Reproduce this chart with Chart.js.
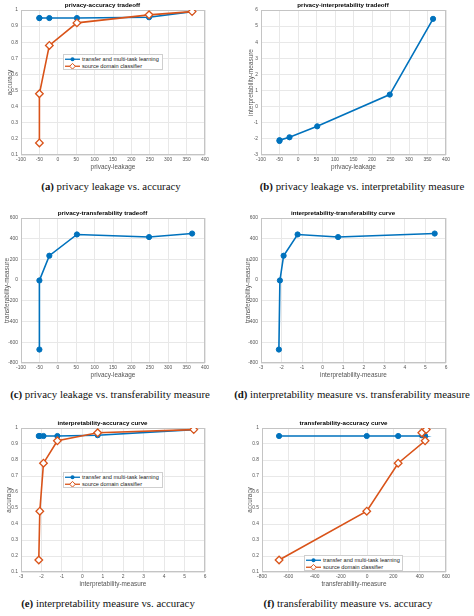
<!DOCTYPE html>
<html>
<head>
<meta charset="utf-8">
<script src="https://cdn.jsdelivr.net/npm/chart.js@4/dist/chart.umd.min.js"></script>
<style>
  html, body { margin: 0; padding: 0; background: #fff; }
  body { width: 474px; height: 616px; position: relative; overflow: hidden; }
  canvas { position: absolute; }
  .cap { position: absolute; transform: translate(-50%, -50%); white-space: nowrap;
         font-family: "Liberation Serif", "DejaVu Serif", serif; font-size: 10.8px; color: #111; }
  .cap b { font-weight: bold; }
  .leg { position: absolute; background: #fff; border: 1px solid #cfcfcf; box-sizing: border-box;
         font-family: "Liberation Sans", Arial, sans-serif; font-size: 5.6px; color: #222; padding-top: 1px; }
  .leg .row { display: flex; align-items: center; height: 6.5px; }
  .leg svg { width: 15px; height: 6.5px; margin: 0 2px 0 1px; flex: none; }
</style>
</head>
<body>
<canvas id="cA" width="213" height="171" style="left:0px;top:0px"></canvas>
<canvas id="cB" width="214" height="171" style="left:240px;top:0px"></canvas>
<canvas id="cC" width="213" height="171" style="left:0px;top:208px"></canvas>
<canvas id="cD" width="214" height="171" style="left:240px;top:208px"></canvas>
<canvas id="cE" width="213" height="170" style="left:0px;top:418px"></canvas>
<canvas id="cF" width="213" height="170" style="left:241px;top:418px"></canvas>

<div class="cap" style="left:111px;top:186px"><b>(a)</b> privacy leakage vs. accuracy</div>
<div class="cap" style="left:362px;top:186px"><b>(b)</b> privacy leakage vs. interpretability measure</div>
<div class="cap" style="left:110px;top:394px"><b>(c)</b> privacy leakage vs. transferability measure</div>
<div class="cap" style="left:352px;top:394px"><b>(d)</b> interpretability measure vs. transferability measure</div>
<div class="cap" style="left:108px;top:603px"><b>(e)</b> interpretability measure vs. accuracy</div>
<div class="cap" style="left:348px;top:603px"><b>(f)</b> transferability measure vs. accuracy</div>

<script>
// ---- data (one entry per model configuration) ----
const privacyLeakage   = [-50, -50, -23, 52, 248, 365];
const interpretability = [-2.13, -2.08, -1.9, -1.22, 0.75, 5.45];
const transferability  = [-670, -3, 236, 441, 416, 450];
const accTransfer      = [0.95, 0.95, 0.95, 0.95, 0.955, 0.99];
const accSource        = [0.175, 0.48, 0.78, 0.92, 0.97, 0.99];

const seriesNames = ["transfer and multi-task learning", "source domain classifier"];
const panelTitles = ["privacy-accuracy tradeoff", "privacy-interpretability tradeoff",
  "privacy-transferability tradeoff", "interpretability-transferability curve",
  "interpretability-accuracy curve", "transferability-accuracy curve"];
const axisNames = { privacy: "privacy-leakage", interp: "interpretability-measure",
  transfer: "transferability-measure", acc: "accuracy" };
// tick ranges [min, max, step]
const privacyTicks  = [-100, 400, 50];
const interpTicks   = [-3, 6, 1];
const transferTicks = [-800, 600, 200];
const accTicks      = [0.1, 1, 0.1];

const BLUE = "#0072BD", ORANGE = "#D95319";
const SANS = '"Liberation Sans", Arial, sans-serif';

function pts(xs, ys) { return xs.map((x, i) => ({ x: x, y: ys[i] })); }

function blueSet(xs, ys) {
  return { label: seriesNames[0], data: pts(xs, ys), borderColor: BLUE, backgroundColor: BLUE,
    borderWidth: 1.6, pointRadius: 2.6, pointStyle: "circle", pointBorderWidth: 1,
    showLine: true, tension: 0, order: 2 };
}
function orangeSet(xs, ys) {
  return { label: seriesNames[1], data: pts(xs, ys), borderColor: ORANGE, backgroundColor: "#fff",
    borderWidth: 1.6, pointRadius: 3.8, pointStyle: "rectRot", pointBorderWidth: 1.3,
    showLine: true, tension: 0, order: 1 };
}

const framePlugin = {
  id: "frame",
  beforeDatasetsDraw(chart) {
    const a = chart.chartArea, ctx = chart.ctx;
    ctx.save();
    ctx.strokeStyle = "#c4c4c4";
    ctx.lineWidth = 1;
    ctx.strokeRect(Math.round(a.left) + 0.5, Math.round(a.top) + 0.5,
      Math.round(a.right - a.left) - 1, Math.round(a.bottom - a.top) - 1);
    ctx.restore();
  }
};

function fmt(v) { return String(+Number(v).toFixed(3)); }

function axis(range, titleText, isY, titlePad) {
  const o = {
    type: "linear", min: range[0], max: range[1],
    grid: { color: "#e8e8e8", lineWidth: 1, drawTicks: false },
    border: { display: false },
    ticks: { stepSize: range[2], autoSkip: false, maxRotation: 0, color: "#555",
      font: { family: SANS, size: 4.9 }, padding: isY ? 3 : 1.5, callback: fmt },
    title: { display: true, text: titleText, color: "#555",
      font: { family: SANS, size: 6.4, lineHeight: "8px" },
      padding: isY ? { top: titlePad, bottom: 0 } : { top: 0, bottom: 0 } },
  };
  if (isY) o.afterFit = s => { s.width = 21; };
  else o.afterFit = s => { s.height = 16; };
  return o;
}

function makeChart(id, title, datasets, xr, xName, yr, yName, yTitlePad) {
  new Chart(document.getElementById(id), {
    type: "scatter",
    data: { datasets: datasets },
    options: {
      responsive: false, animation: false, devicePixelRatio: 1,
      layout: { padding: { left: 0, right: 8, top: 0, bottom: 0 } },
      plugins: {
        legend: { display: false }, tooltip: { enabled: false },
        title: { display: true, text: title, color: "#000",
          font: { family: SANS, size: 6.2, weight: "bold", lineHeight: "10px" },
          padding: { top: 0, bottom: 0 } }
      },
      scales: { x: axis(xr, xName, false, 0), y: axis(yr, yName, true, yTitlePad) }
    },
    plugins: [framePlugin]
  });
}

makeChart("cA", panelTitles[0],
  [blueSet(privacyLeakage, accTransfer), orangeSet(privacyLeakage, accSource)],
  privacyTicks, axisNames.privacy, accTicks, axisNames.acc, 6);
makeChart("cB", panelTitles[1],
  [blueSet(privacyLeakage, interpretability)],
  privacyTicks, axisNames.privacy, interpTicks, axisNames.interp, 7);
makeChart("cC", panelTitles[2],
  [blueSet(privacyLeakage, transferability)],
  privacyTicks, axisNames.privacy, transferTicks, axisNames.transfer, 3);
makeChart("cD", panelTitles[3],
  [blueSet(interpretability, transferability)],
  interpTicks, axisNames.interp, transferTicks, axisNames.transfer, 4);
makeChart("cE", panelTitles[4],
  [blueSet(interpretability, accTransfer), orangeSet(interpretability, accSource)],
  interpTicks, axisNames.interp, accTicks, axisNames.acc, 5);
makeChart("cF", panelTitles[5],
  [blueSet(transferability, accTransfer), orangeSet(transferability, accSource)],
  transferTicks, axisNames.transfer, accTicks, axisNames.acc, 5);

// ---- HTML legends ----
function legendBox(left, top, width, height) {
  const d = document.createElement("div");
  d.className = "leg";
  d.style.left = left + "px"; d.style.top = top + "px";
  d.style.width = width + "px"; d.style.height = height + "px";
  const blueIcon = '<svg viewBox="0 0 15 6.5"><line x1="0" y1="3.25" x2="15" y2="3.25" stroke="' + BLUE +
    '" stroke-width="1.3"/><circle cx="7.5" cy="3.25" r="2" fill="' + BLUE + '"/></svg>';
  const orIcon = '<svg viewBox="0 0 15 6.5"><line x1="0" y1="3.25" x2="15" y2="3.25" stroke="' + ORANGE +
    '" stroke-width="1.3"/><polygon points="7.5,0.4 10.3,3.25 7.5,6.1 4.7,3.25" fill="#fff" stroke="' + ORANGE +
    '" stroke-width="1"/></svg>';
  d.innerHTML = '<div class="row">' + blueIcon + '<span>' + seriesNames[0] + '</span></div>' +
                '<div class="row">' + orIcon + '<span>' + seriesNames[1] + '</span></div>';
  document.body.appendChild(d);
}
legendBox(63, 54, 100, 16);
legendBox(63, 472, 100, 16);
legendBox(304, 555, 99, 16);
</script>
</body>
</html>
